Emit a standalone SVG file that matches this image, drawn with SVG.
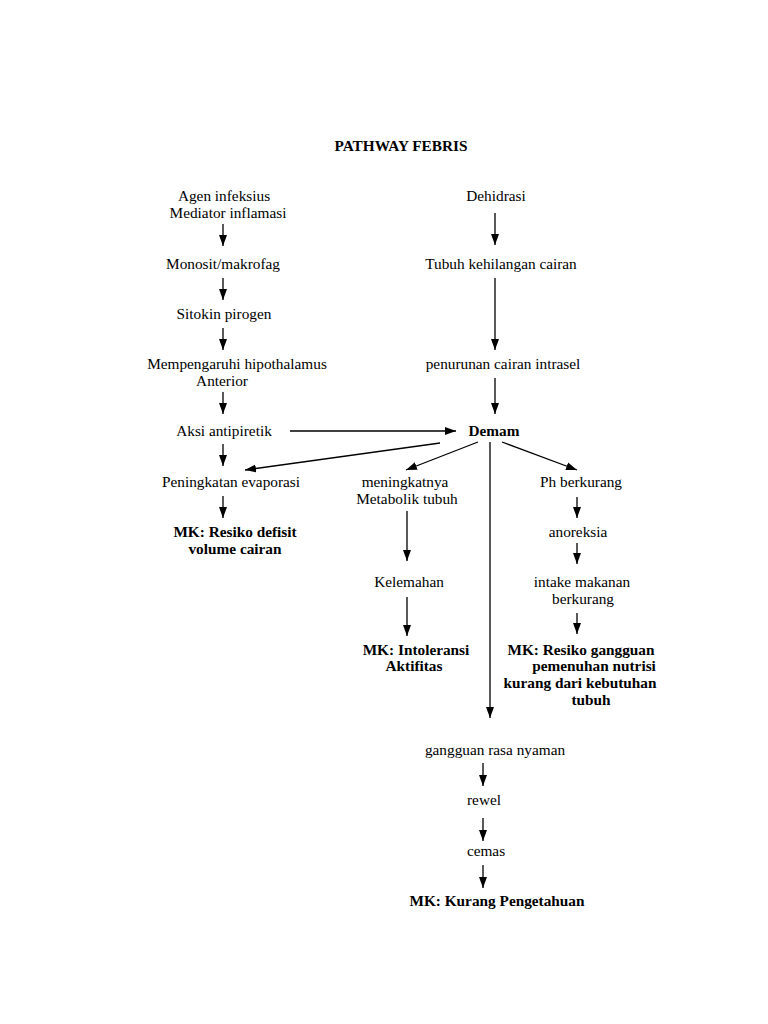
<svg xmlns="http://www.w3.org/2000/svg" width="768" height="1024" viewBox="0 0 768 1024">
<style>
text{font-family:"Liberation Serif","Times New Roman",serif;font-size:15.3px;fill:#000;text-anchor:middle}
.b{font-weight:bold}
.c line{stroke:#000;stroke-width:1.3;marker-end:url(#ah)}
</style>
<defs>
<marker id="ah" markerUnits="userSpaceOnUse" markerWidth="12" markerHeight="10" viewBox="0 0 12 10" refX="11" refY="5" orient="auto">
<path d="M0,1 L11,5 L0,9 Z" fill="#000"/>
</marker>
</defs>
<rect width="768" height="1024" fill="#fff"/>
<g id="title"><text class="b" x="401" y="151">PATHWAY FEBRIS</text></g>
<g id="agen"><text x="224" y="201">Agen infeksius</text><text x="228" y="218">Mediator inflamasi</text></g>
<g id="monosit"><text x="223" y="269">Monosit/makrofag</text></g>
<g id="sitokin"><text x="224" y="319">Sitokin pirogen</text></g>
<g id="hipothalamus"><text x="237" y="369">Mempengaruhi hipothalamus</text><text x="222" y="386">Anterior</text></g>
<g id="aksi"><text x="224" y="436">Aksi antipiretik</text></g>
<g id="evaporasi"><text x="231" y="487">Peningkatan evaporasi</text></g>
<g id="mk1"><text class="b" x="235" y="537">MK: Resiko defisit</text><text class="b" x="235" y="554">volume cairan</text></g>
<g id="dehidrasi"><text x="496" y="201">Dehidrasi</text></g>
<g id="tubuh"><text x="501" y="269">Tubuh kehilangan cairan</text></g>
<g id="penurunan"><text x="503" y="369">penurunan cairan intrasel</text></g>
<g id="demam"><text class="b" x="494" y="436">Demam</text></g>
<g id="metabolik"><text x="405" y="487">meningkatnya</text><text x="407" y="504">Metabolik tubuh</text></g>
<g id="kelemahan"><text x="409" y="587">Kelemahan</text></g>
<g id="mk2"><text class="b" x="416" y="655">MK: Intoleransi</text><text class="b" x="414" y="671">Aktifitas</text></g>
<g id="ph"><text x="581" y="487">Ph berkurang</text></g>
<g id="anoreksia"><text x="578" y="537">anoreksia</text></g>
<g id="intake"><text x="582" y="587">intake makanan</text><text x="583" y="604">berkurang</text></g>
<g id="mk3"><text class="b" x="581" y="655">MK: Resiko gangguan</text><text class="b" x="594" y="671">pemenuhan nutrisi</text><text class="b" x="580" y="688">kurang dari kebutuhan</text><text class="b" x="591" y="705">tubuh</text></g>
<g id="gangguan"><text x="495" y="755">gangguan rasa nyaman</text></g>
<g id="rewel"><text x="484" y="805">rewel</text></g>
<g id="cemas"><text x="486" y="856">cemas</text></g>
<g id="mk4"><text class="b" x="497" y="906">MK: Kurang Pengetahuan</text></g>
<g id="connectors" class="c">
<line x1="223" y1="224" x2="223" y2="246"/>
<line x1="223" y1="278" x2="223" y2="300"/>
<line x1="223" y1="328" x2="223" y2="350"/>
<line x1="223" y1="392" x2="223" y2="414"/>
<line x1="223" y1="444" x2="223" y2="466"/>
<line x1="223" y1="496" x2="223" y2="518"/>
<line x1="290" y1="431" x2="456" y2="431"/>
<line x1="495" y1="213" x2="495" y2="245"/>
<line x1="495" y1="278" x2="495" y2="350"/>
<line x1="495" y1="378" x2="495" y2="414"/>
<line x1="440" y1="443" x2="245" y2="470"/>
<line x1="478" y1="442" x2="406" y2="470"/>
<line x1="490" y1="442" x2="490" y2="718"/>
<line x1="502" y1="442" x2="577" y2="470"/>
<line x1="407" y1="511" x2="407" y2="561"/>
<line x1="407" y1="597" x2="407" y2="636"/>
<line x1="577" y1="497" x2="577" y2="518"/>
<line x1="577" y1="543" x2="577" y2="564"/>
<line x1="577" y1="613" x2="577" y2="634"/>
<line x1="483" y1="763" x2="483" y2="786"/>
<line x1="483" y1="818" x2="483" y2="841"/>
<line x1="483" y1="865" x2="483" y2="888"/>
</g>
</svg>
